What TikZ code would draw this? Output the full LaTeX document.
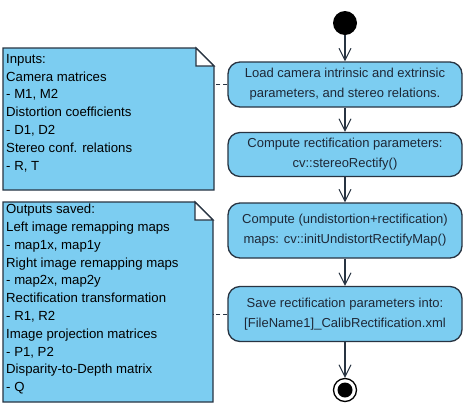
\documentclass[tikz,border=0pt]{standalone}
\usepackage{fontspec}
\setmainfont{Liberation Sans}
\usetikzlibrary{arrows.meta,calc}
\definecolor{fillblue}{RGB}{124,205,241}
\definecolor{edge}{RGB}{40,52,66}
\definecolor{txt}{RGB}{30,40,55}
\tikzset{
  act/.style={draw=edge, line width=1.3pt, fill=fillblue, rounded corners=12pt,
    minimum width=234pt, align=center, text=txt, inner sep=0pt,
    font=\fontsize{13}{20}\selectfont},
  flow/.style={draw=edge, line width=1.1pt, -{Straight Barb[length=12pt,width=12pt,line width=1pt]}},
  notelink/.style={draw=edge, line width=0.8pt, dash pattern=on 4pt off 3pt},
  notetext/.style={anchor=north west, align=left, inner sep=0pt, text=black,
    font=\fontsize{13.2}{17.8}\selectfont}
}
\begin{document}
\begin{tikzpicture}[x=1pt,y=-1pt]
\useasboundingbox (0,0) rectangle (474,413);
% start / end
\node[circle, fill=black, minimum size=24pt, inner sep=0pt] (start) at (345,23) {};
\node[circle, draw=black, line width=1.3pt, fill=white, minimum size=23pt, inner sep=0pt] (end) at (345,390) {};
\node[circle, fill=black, minimum size=15pt, inner sep=0pt] (endin) at (345,390) {};
% actions
\node[act, minimum height=45pt] (a1) at (345,84.5) {Load camera intrinsic and extrinsic\\parameters, and stereo relations.};
\node[act, minimum height=44pt] (a2) at (345,154.5) {Compute rectification parameters:\\cv::stereoRectify()};
\node[act, minimum height=55pt] (a3) at (345,230.5) {Compute (undistortion+rectification)\\maps: cv::initUndistortRectifyMap()};
\node[act, minimum height=55pt] (a4) at (345,314) {Save rectification parameters into:\\{[}FileName1{]}\_CalibRectification.xml};
% flows
\draw[flow] (start) -- (a1);
\draw[flow] (a1) -- (a2);
\draw[flow] (a2) -- (a3);
\draw[flow] (a3) -- (a4);
\draw[flow] (a4) -- (end);
% note 1
\path[draw=edge, line width=1.1pt, fill=fillblue] (3,48) -- (196,48) -- (214,66) -- (214,190) -- (3,190) -- cycle;
\path[draw=edge, line width=1.1pt, fill=white] (196,48) -- (196,66) -- (214,66) -- cycle;
\node[notetext] (n1) at (6,54) {Inputs:\\Camera matrices\\- M1, M2\\Distortion coefficients\\- D1, D2\\Stereo conf. relations\\- R, T};
\coordinate (n1e) at (214,84.5);
% note 2
\path[draw=edge, line width=1.1pt, fill=fillblue] (3,202) -- (195,202) -- (213,220) -- (213,402) -- (3,402) -- cycle;
\path[draw=edge, line width=1.1pt, fill=white] (195,202) -- (195,220) -- (213,220) -- cycle;
\node[notetext] (n2) at (6,204) {Outputs saved:\\Left image remapping maps\\- map1x, map1y\\Right image remapping maps\\- map2x, map2y\\Rectification transformation\\- R1, R2\\Image projection matrices\\- P1, P2\\Disparity-to-Depth matrix\\- Q};
\coordinate (n2e) at (213,314);
% note links
\draw[notelink] (a1.west) -- (n1e);
\draw[notelink] (a4.west) -- (n2e);
\end{tikzpicture}
\end{document}
